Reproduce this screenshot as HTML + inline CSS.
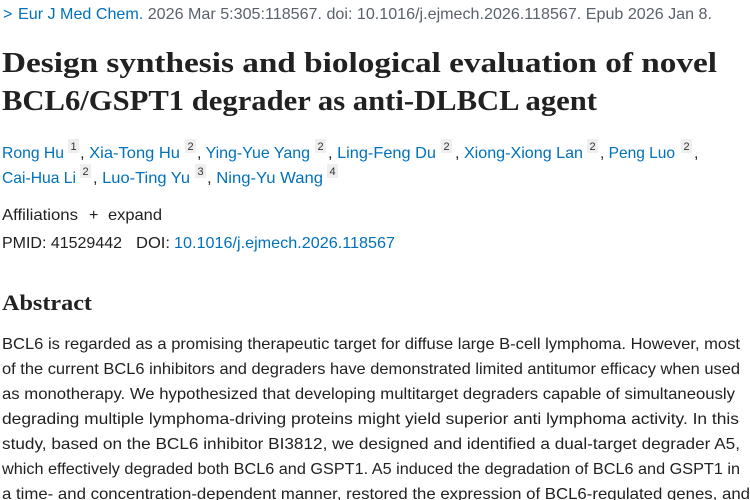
<!DOCTYPE html>
<html><head><meta charset="utf-8"><style>
html,body{margin:0;padding:0;background:#fff;width:750px;height:500px;overflow:hidden}
svg{display:block}
.s{font-family:"Liberation Sans",sans-serif;font-size:16px}
.b{fill:#0071bc}.t{fill:#212121}.g{fill:#5b616b}
.h{font-family:"Liberation Serif",serif;font-weight:bold;fill:#212121}
.sup{font-family:"Liberation Sans",sans-serif;font-size:11px;fill:#333}
</style></head><body>
<svg width="750" height="500" xmlns="http://www.w3.org/2000/svg">
<text x="3" y="19" class="s b" font-size="15">&gt;</text>
<text x="18" y="19" class="s" font-size="15" textLength="694" lengthAdjust="spacingAndGlyphs"><tspan class="b">Eur J Med Chem.</tspan><tspan class="g"> 2026 Mar 5:305:118567. doi: 10.1016/j.ejmech.2026.118567. Epub 2026 Jan 8.</tspan></text>
<text x="2" y="72" class="h" font-size="28" textLength="715" lengthAdjust="spacingAndGlyphs">Design synthesis and biological evaluation of novel</text>
<text x="2" y="110" class="h" font-size="28" textLength="595" lengthAdjust="spacingAndGlyphs">BCL6/GSPT1 degrader as anti-DLBCL agent</text>
<g class="s">
<text x="2" y="158" class="b" textLength="62" lengthAdjust="spacingAndGlyphs">Rong Hu</text>
<text x="80" y="158" textLength="100" lengthAdjust="spacingAndGlyphs"><tspan class="t">,</tspan><tspan class="b"> Xia-Tong Hu</tspan></text>
<text x="197" y="158" textLength="113" lengthAdjust="spacingAndGlyphs"><tspan class="t">,</tspan><tspan class="b"> Ying-Yue Yang</tspan></text>
<text x="328" y="158" textLength="108" lengthAdjust="spacingAndGlyphs"><tspan class="t">,</tspan><tspan class="b"> Ling-Feng Du</tspan></text>
<text x="455" y="158" textLength="128" lengthAdjust="spacingAndGlyphs"><tspan class="t">,</tspan><tspan class="b"> Xiong-Xiong Lan</tspan></text>
<text x="600" y="158" textLength="75" lengthAdjust="spacingAndGlyphs"><tspan class="t">,</tspan><tspan class="b"> Peng Luo</tspan></text>
<text x="694" y="158" class="t">,</text>
<text x="2" y="183" class="b" textLength="74" lengthAdjust="spacingAndGlyphs">Cai-Hua Li</text>
<text x="93" y="183" textLength="97" lengthAdjust="spacingAndGlyphs"><tspan class="t">,</tspan><tspan class="b"> Luo-Ting Yu</tspan></text>
<text x="207" y="183" textLength="116" lengthAdjust="spacingAndGlyphs"><tspan class="t">,</tspan><tspan class="b"> Ning-Yu Wang</tspan></text>
</g>
<g fill="#eeeeee">
<rect x="68" y="139" width="11" height="14"/><rect x="185" y="139" width="11" height="14"/><rect x="315" y="139" width="11" height="14"/><rect x="441" y="139" width="11" height="14"/><rect x="587" y="139" width="11" height="14"/><rect x="681" y="139" width="11" height="14"/>
<rect x="80" y="164" width="11" height="14"/><rect x="195" y="164" width="11" height="14"/><rect x="327" y="164" width="11" height="14"/>
</g>
<g class="sup" text-anchor="middle">
<text x="73.5" y="150">1</text><text x="190.5" y="150">2</text><text x="320.5" y="150">2</text><text x="446.5" y="150">2</text><text x="592.5" y="150">2</text><text x="686.5" y="150">2</text>
<text x="85.5" y="175">2</text><text x="200.5" y="175">3</text><text x="332.5" y="175">4</text>
</g>
<text x="2" y="220" class="s t" textLength="76" lengthAdjust="spacingAndGlyphs">Affiliations</text>
<text x="89" y="220" class="s t" font-size="18">+</text>
<text x="108" y="220" class="s t" textLength="54" lengthAdjust="spacingAndGlyphs">expand</text>
<text x="2" y="248" class="s t" textLength="120" lengthAdjust="spacingAndGlyphs">PMID: 41529442</text>
<text x="136" y="248" class="s t" textLength="34" lengthAdjust="spacingAndGlyphs">DOI:</text>
<text x="174" y="248" class="s b" textLength="221" lengthAdjust="spacingAndGlyphs">10.1016/j.ejmech.2026.118567</text>
<text x="2" y="310" class="h" font-size="22" textLength="90" lengthAdjust="spacingAndGlyphs">Abstract</text>
<g class="s t">
<text x="2" y="349" textLength="738" lengthAdjust="spacingAndGlyphs">BCL6 is regarded as a promising therapeutic target for diffuse large B-cell lymphoma. However, most</text>
<text x="2" y="374" textLength="738" lengthAdjust="spacingAndGlyphs">of the current BCL6 inhibitors and degraders have demonstrated limited antitumor efficacy when used</text>
<text x="2" y="399" textLength="733" lengthAdjust="spacingAndGlyphs">as monotherapy. We hypothesized that developing multitarget degraders capable of simultaneously</text>
<text x="2" y="424" textLength="737" lengthAdjust="spacingAndGlyphs">degrading multiple lymphoma-driving proteins might yield superior anti lymphoma activity. In this</text>
<text x="2" y="449" textLength="738" lengthAdjust="spacingAndGlyphs">study, based on the BCL6 inhibitor BI3812, we designed and identified a dual-target degrader A5,</text>
<text x="2" y="474" textLength="738" lengthAdjust="spacingAndGlyphs">which effectively degraded both BCL6 and GSPT1. A5 induced the degradation of BCL6 and GSPT1 in</text>
<text x="2" y="499" textLength="748" lengthAdjust="spacingAndGlyphs">a time- and concentration-dependent manner, restored the expression of BCL6-regulated genes, and</text>
</g>
</svg>
</body></html>
